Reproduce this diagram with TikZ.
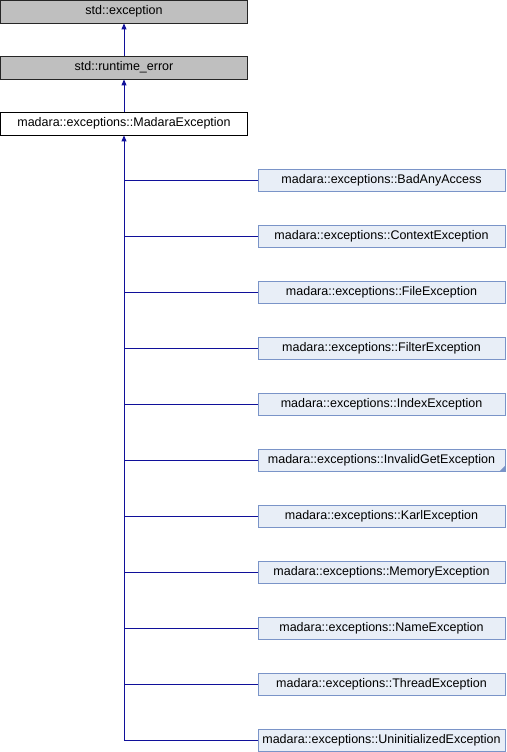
\documentclass[tikz,border=0pt]{standalone}
\usepackage{fontspec}
\setmainfont{Liberation Sans}
\usetikzlibrary{arrows.meta,calc}
\definecolor{lnk}{HTML}{10109A}
\definecolor{stdfill}{HTML}{BFBFBF}
\definecolor{clsfill}{HTML}{E8EEF7}
\definecolor{clsdraw}{HTML}{7A94C8}
\tikzset{
  base/.style={rectangle, minimum height=23pt, inner sep=0pt, font=\fontsize{12.5}{14}\selectfont, text=black, line width=0.8pt},
  stdbox/.style={base, minimum width=247pt, draw=black!85, fill=stdfill},
  curbox/.style={base, minimum width=247pt, draw=black, fill=white},
  clsbox/.style={base, minimum width=247pt, minimum height=22pt, draw=clsdraw, fill=clsfill},
  conn/.style={draw=lnk, line width=1pt},
  uparrow/.style={conn, -{Triangle[length=6pt,width=5pt]}},
}
\begin{document}
\begin{tikzpicture}[x=1pt,y=-1pt]
\useasboundingbox (0,0) rectangle (506,752);
\node[stdbox] (exc) at (124,11.5) {std::exception};
\node[stdbox] (rte) at (124,67.5) {std::runtime\_error};
\node[curbox] (mad) at (124,123.5) {madara::exceptions::MadaraException};
\node[clsbox] (c1) at (381.5,180) {madara::exceptions::BadAnyAccess};
\node[clsbox] (c2) at (381.5,236) {madara::exceptions::ContextException};
\node[clsbox] (c3) at (381.5,292) {madara::exceptions::FileException};
\node[clsbox] (c4) at (381.5,348) {madara::exceptions::FilterException};
\node[clsbox] (c5) at (381.5,404) {madara::exceptions::IndexException};
\node[clsbox] (c6) at (381.5,460) {madara::exceptions::InvalidGetException};
\node[clsbox] (c7) at (381.5,516) {madara::exceptions::KarlException};
\node[clsbox] (c8) at (381.5,572) {madara::exceptions::MemoryException};
\node[clsbox] (c9) at (381.5,628) {madara::exceptions::NameException};
\node[clsbox] (c10) at (381.5,684) {madara::exceptions::ThreadException};
\node[clsbox] (c11) at (381.5,740) {madara::exceptions::UninitializedException};
\fill[clsdraw] (c6.south east) -- ++(-6,0) -- ++(6,-6) -- cycle;
\draw[uparrow] (rte.north) -- (exc.south);
\draw[uparrow] (mad.north) -- (rte.south);
\draw[uparrow] (mad.south |- c11.west) -- (mad.south);
\draw[conn] (mad.south |- c11.west) -- (c11.west);
\foreach \n in {c1,c2,c3,c4,c5,c6,c7,c8,c9,c10}
  \draw[conn] (mad.south |- \n.west) -- (\n.west);
\end{tikzpicture}
\end{document}
